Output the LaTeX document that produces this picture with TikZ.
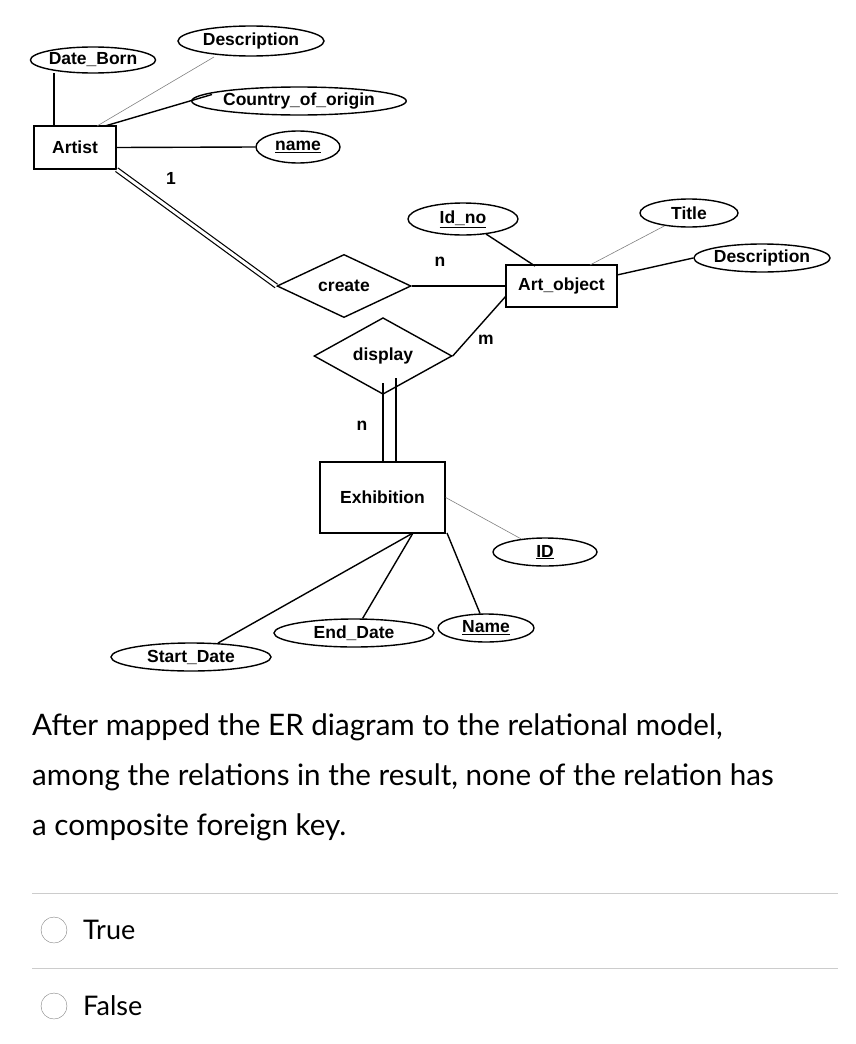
\documentclass[tikz,border=0pt]{standalone}
\usepackage{fontspec}
\setmainfont{Liberation Sans}
\newfontfamily\lato{Lato}
\usetikzlibrary{shapes.geometric}
\begin{document}
\begin{tikzpicture}[x=1pt,y=-1pt,
  lbl/.style={font=\fontsize{17.5}{17.5}\selectfont\bfseries},
  attr/.style={ellipse,draw,line width=1.4pt,inner sep=0pt,lbl},
  ent/.style={rectangle,draw,line width=1.4pt,inner sep=0pt,lbl},
  rel/.style={diamond,draw,line width=1.4pt,inner sep=0pt,lbl},
  ln/.style={line width=1.4pt},
  gr/.style={gray,line width=0.6pt},
  dbl/.style={double,double distance=3pt,line width=1.2pt},
  q/.style={font=\lato\fontsize{29.6}{29.6}\selectfont,anchor=base west,inner sep=0pt}]
\useasboundingbox (0,0) rectangle (856,1044);
\node[attr,minimum width=120,minimum height=26] (db) at (93,60) {Date\_Born};
\node[attr,minimum width=146,minimum height=30] (d1) at (251,41) {Description};
\node[attr,minimum width=214,minimum height=28] (co) at (299,101) {Country\_of\_origin};
\node[attr,minimum width=84,minimum height=32] (nm) at (298,147) {\underline{name}};
\node[ent,minimum width=82,minimum height=43] (ar) at (75,147.5) {Artist};
\coordinate (arT1) at (54,126);
\coordinate (dbB) at (54,73);
\coordinate (arT2) at (97,126);
\coordinate (arT3) at (105,126);
\draw[ln] (arT1) -- (dbB);
\draw[gr] (arT2) -- (214,57);
\draw[ln] (arT3) -- (212,94.5);
\draw[ln] (ar.east) -- (nm.west);
\node[rel,minimum width=134,minimum height=56] (cr) at (344,286) {create};
\draw[dbl] (ar.south east) -- (cr.west);
\node[lbl] (one) at (171,178) {1};
\node[attr,minimum width=110,minimum height=32] (id) at (463,219) {\underline{Id\_no}};
\node[ent,minimum width=111,minimum height=42] (ao) at (561.5,286) {Art\_object};
\draw[ln] (id) -- (535,266);
\draw[ln] (cr.east) -- (ao.west);
\node[lbl] (n1) at (440,262) {n};
\node[attr,minimum width=98,minimum height=28] (ti) at (689,213) {Title};
\draw[gr] (ti) -- (590,265);
\node[attr,minimum width=124,minimum height=28] (d2) at (762,258) {Description};
\draw[ln] (617,275) -- (d2.west);
\node[rel,minimum width=138,minimum height=54] (dp) at (383,356) {display};
\draw[ln] (dp.east) -- (506,296);
\node[lbl] (m) at (486,340) {m};
\node[ent,minimum width=125,minimum height=71] (ex) at (382.5,497.5) {Exhibition};
\draw[ln] (383,383) -- (383,462);
\draw[ln] (396,378) -- (396,462);
\node[lbl] (n2) at (362,426) {n};
\node[attr,minimum width=104,minimum height=28] (idd) at (545,552) {\underline{ID}};
\draw[gr] (ex.east) -- (idd);
\node[attr,minimum width=96,minimum height=28] (na) at (486,628) {\underline{Name}};
\node[attr,minimum width=160,minimum height=28] (ed) at (354,633) {End\_Date};
\node[attr,minimum width=160,minimum height=28] (sd) at (191,657) {Start\_Date};
\coordinate (exb) at (413,533);
\draw[ln] (447,533) -- (na);
\draw[ln] (exb) -- (ed);
\draw[ln] (exb) -- (218,643);
\node[q] (t1) at (32,735) {After mapped the ER diagram to the relational model,};
\node[q] (t2) at (32,785) {among the relations in the result, none of the relation has};
\node[q] (t3) at (32,835) {a composite foreign key.};
\draw[gray!40] (32,893) -- (838,893);
\draw[gray!40] (32,968) -- (838,968);
\node[circle,draw=gray,minimum size=26,inner sep=0] (r1) at (54,930) {};
\node[circle,draw=gray,minimum size=26,inner sep=0] (r2) at (54,1006) {};
\node[font=\lato\fontsize{27}{27}\selectfont,anchor=west,inner sep=0] (tr) at (83,930) {True};
\node[font=\lato\fontsize{27}{27}\selectfont,anchor=west,inner sep=0] (fa) at (83,1006) {False};
\end{tikzpicture}
\end{document}
